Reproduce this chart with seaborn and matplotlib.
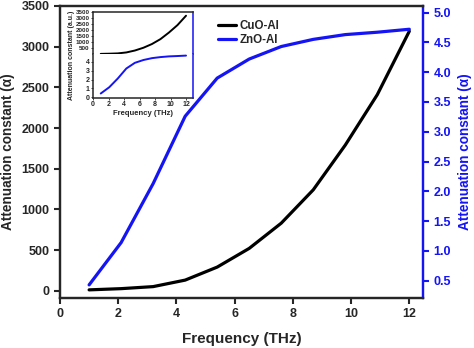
import matplotlib
matplotlib.use("Agg")
import matplotlib.pyplot as plt
import seaborn as sns
import pandas as pd

freq = [1.0, 2.1, 3.2, 4.3, 5.4, 6.5, 7.6, 8.7, 9.8, 10.9, 12.0]
cuo_al = [10, 25, 50, 130, 290, 520, 830, 1240, 1790, 2410, 3190]
zno_al = [0.43, 1.14, 2.13, 3.26, 3.90, 4.22, 4.43, 4.55, 4.63, 4.67, 4.72]
x_ticks = [0, 2, 4, 6, 8, 10, 12]
left_ticks = [0, 500, 1000, 1500, 2000, 2500, 3000, 3500]
right_ticks = [0.5, 1.0, 1.5, 2.0, 2.5, 3.0, 3.5, 4.0, 4.5, 5.0]
inset_upper_ticks = [500, 1000, 1500, 2000, 2500, 3000, 3500]
inset_lower_ticks = [0, 1, 2, 3, 4]

sns.set_style("ticks")
plt.rcParams['font.family'] = ['Liberation Sans', 'DejaVu Sans']
plt.rcParams['font.weight'] = 'bold'

df = pd.DataFrame({"freq": freq, "CuO-Al": cuo_al, "ZnO-Al": zno_al})
BLUE = "#1414f5"

fig = plt.figure(figsize=(4.74, 3.48), dpi=100)
ax = fig.add_axes([60/474, 1-298/348, (423-60)/474, (298-6)/348])
ax2 = ax.twinx()

sns.lineplot(data=df, x="freq", y="CuO-Al", ax=ax, color="black", lw=2.3, label="CuO-Al", legend=False)
sns.lineplot(data=df, x="freq", y="ZnO-Al", ax=ax2, color=BLUE, lw=2.3, label="ZnO-Al", legend=False)

ax.set_xlim(0, 12.47)
ax.set_ylim(-90, 3500)
ax2.set_ylim(0.21, 5.11)
ax.set_xticks(x_ticks)
ax.set_yticks(left_ticks)
ax2.set_yticks(right_ticks)
ax.set_xticklabels([str(t) for t in x_ticks], fontsize=9, fontweight='bold')
ax.set_yticklabels([str(t) for t in left_ticks], fontsize=9, fontweight='bold')
ax2.set_yticklabels([f"{t:.1f}" for t in right_ticks], fontsize=9, fontweight='bold', color=BLUE)

ax.set_xlabel("Frequency (THz)", fontsize=11, fontweight='bold', labelpad=8)
ax.set_ylabel("Attenuation constant (α)", fontsize=9.8, fontweight='bold', labelpad=5)
ax2.set_ylabel("Attenuation constant (α)", fontsize=9.8, fontweight='bold', color=BLUE, labelpad=5)

for a in (ax, ax2):
    for s in a.spines.values():
        s.set_linewidth(1.6)
        s.set_visible(True)
ax2.spines['right'].set_color(BLUE)
ax.tick_params(axis='both', width=1.5, length=4, direction='out')
ax2.tick_params(axis='y', width=1.5, length=4, colors=BLUE, direction='out')

h1, l1 = ax.get_legend_handles_labels()
h2, l2 = ax2.get_legend_handles_labels()
leg = ax.legend(h1 + h2, l1 + l2, loc='upper left', bbox_to_anchor=(0.415, 0.975),
                frameon=False, fontsize=8.3, handlelength=1.6, handletextpad=0.3,
                labelspacing=0.15, borderaxespad=0.2)
for t in leg.get_texts():
    t.set_fontweight('bold')

# inset: broken y axis, upper part CuO-Al, lower part ZnO-Al
ix0, ix1 = 93/474, 193/474
upper = fig.add_axes([ix0, 1-54/348, ix1-ix0, (54-12)/348])
lower = fig.add_axes([ix0, 1-98/348, ix1-ix0, (98-54)/348])

sns.lineplot(data=df, x="freq", y="CuO-Al", ax=upper, color="black", lw=1.4, legend=False)
sns.lineplot(data=df, x="freq", y="ZnO-Al", ax=lower, color=BLUE, lw=1.4, legend=False)

for a in (upper, lower):
    a.set_xlim(0, 12.9)
    for s in a.spines.values():
        s.set_linewidth(1.1)
        s.set_visible(True)
    a.spines['right'].set_color(BLUE)
    a.set_ylabel("")
    a.set_xlabel("")
    a.tick_params(axis='both', width=0.6, length=1.5, pad=0.8, labelsize=4.8)

upper.set_ylim(0, 3500)
upper.set_yticks(inset_upper_ticks)
upper.set_yticklabels([str(t) for t in inset_upper_ticks], fontsize=4.5, fontweight='bold')
upper.set_xticks([])
upper.spines['bottom'].set_visible(False)

lower.set_ylim(-0.08, 4.9)
lower.set_yticks(inset_lower_ticks)
lower.set_yticklabels([str(t) for t in inset_lower_ticks], fontsize=5, fontweight='bold')
lower.set_xticks(x_ticks)
lower.set_xticklabels([str(t) for t in x_ticks], fontsize=5, fontweight='bold')
lower.spines['top'].set_visible(False)
lower.set_xlabel("Frequency (THz)", fontsize=5.5, fontweight='bold', labelpad=1)

fig.text(ix0 - 0.046, 1-55/348, "Attenuation constant (a.u.)", rotation=90,
         fontsize=5, fontweight='bold', ha='center', va='center')

fig.savefig("out.png", dpi=100)
